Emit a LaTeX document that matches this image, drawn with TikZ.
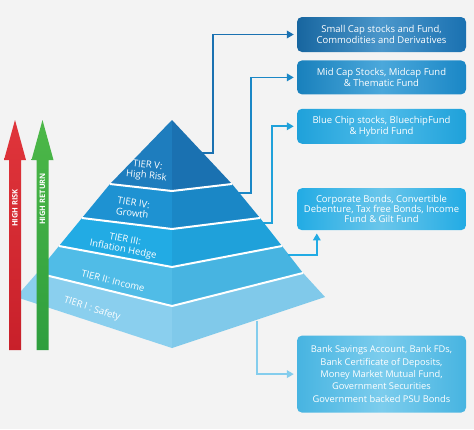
\documentclass[tikz,border=0pt]{standalone}
\usepackage{fontspec}
\setmainfont{Open Sans}
\usepackage{xcolor}
\usepackage{tikz}
\usetikzlibrary{arrows.meta,positioning,calc}
\definecolor{bggray}{HTML}{F3F3F3}
\definecolor{tierVa}{HTML}{1E7DBE}
\definecolor{tierVb}{HTML}{1A71B1}
\definecolor{tierIVa}{HTML}{1E92D2}
\definecolor{tierIVb}{HTML}{1A87C6}
\definecolor{tierIIIa}{HTML}{22ABE4}
\definecolor{tierIIIb}{HTML}{1FA1DA}
\definecolor{tierIIa}{HTML}{50BCE7}
\definecolor{tierIIb}{HTML}{47B4E1}
\definecolor{tierIa}{HTML}{8ACFEE}
\definecolor{tierIb}{HTML}{80C9EA}
\definecolor{riskred}{HTML}{E0353B}
\definecolor{riskreddk}{HTML}{C8202A}
\definecolor{retgreen}{HTML}{4DB848}
\definecolor{retgreendk}{HTML}{2E9E3E}

\begin{document}
\begin{tikzpicture}[
    x=1pt, y=-1pt,
    >={Triangle[length=7pt,width=7.5pt]},
    fund/.style={rounded corners=5pt, align=center, text=white, font=\fontsize{9.5}{11.4}\selectfont, minimum width=169pt, inner sep=1pt},
    tier/.style={text=white, align=center, inner sep=0pt, font=\fontsize{9.5}{10.5}\selectfont},
    upword/.style={text=white, rotate=90, font=\bfseries\fontsize{7.5}{8}\selectfont},
    link/.style={->, line width=1.8pt, shorten >=3pt},
    sep/.style={white, line width=2pt}
]
\fill[bggray] (0,0) rectangle (474,429);
\useasboundingbox (0,0) rectangle (474,429);

\coordinate (apex) at (172,120);
\coordinate (l1) at (110,184); \coordinate (c1) at (172,191); \coordinate (r1) at (232,184);
\coordinate (l2) at (82,218);  \coordinate (c2) at (172,229); \coordinate (r2) at (260,218);
\coordinate (l3) at (59,246);  \coordinate (c3) at (172,267); \coordinate (r3) at (282,246);
\coordinate (l4) at (37,273);  \coordinate (c4) at (172,306); \coordinate (r4) at (303,273);
\coordinate (l5) at (16,297);  \coordinate (c5) at (172,348); \coordinate (r5) at (325,297);

\fill[tierVa] (apex) -- (l1) -- (c1) -- cycle;
\fill[tierVb] (apex) -- (c1) -- (r1) -- cycle;
\fill[tierIVa] (l1) -- (c1) -- (c2) -- (l2) -- cycle;
\fill[tierIVb] (c1) -- (r1) -- (r2) -- (c2) -- cycle;
\fill[tierIIIa] (l2) -- (c2) -- (c3) -- (l3) -- cycle;
\fill[tierIIIb] (c2) -- (r2) -- (r3) -- (c3) -- cycle;
\fill[tierIIa] (l3) -- (c3) -- (c4) -- (l4) -- cycle;
\fill[tierIIb] (c3) -- (r3) -- (r4) -- (c4) -- cycle;
\fill[tierIa] (l4) -- (c4) -- (c5) -- (l5) -- cycle;
\fill[tierIb] (c4) -- (r4) -- (r5) -- (c5) -- cycle;
\draw[sep] (l1) -- (c1) -- (r1);
\draw[sep] (l2) -- (c2) -- (r2);
\draw[sep] (l3) -- (c3) -- (r3);
\draw[sep] (l4) -- (c4) -- (r4);

\node[tier, rotate=-6] (five) at (147,171) {TIER V:\\High Risk};
\node[tier, rotate=-8] (four) at (133,208) {TIER IV:\\Growth};
\node[tier, rotate=-11] (three) at (124,245) {TIER III:\\Inflation Hedge};
\node[tier, rotate=-14] (two) at (113,281) {TIER II: Income};
\node[tier, rotate=-18] (one) at (92,309) {TIER I : Safety};

\shade[top color=riskred, bottom color=riskreddk] (9,350) -- (9,160) -- (4,160) -- (15,120) -- (26,160) -- (21,160) -- (21,350) -- cycle;
\shade[top color=retgreen, bottom color=retgreendk] (36.5,350) -- (36.5,160) -- (31.5,160) -- (42.5,120) -- (53.5,160) -- (48.5,160) -- (48.5,350) -- cycle;
\node[upword] (risk) at (15,208) {HIGH RISK};
\node[upword] (return) at (42.5,199) {HIGH RETURN};

\node[fund, minimum height=35pt, left color=tierVb!90!black, right color=tierVb, middle color=tierVa!80!white] (small) at (381.5,34.5) {Small Cap stocks and Fund,\\Commodities and Derivatives};
\node[fund, minimum height=34pt, below=8pt of small, left color=tierIVb!95!black, right color=tierIVb, middle color=tierIVa!80!white] (mid) {Mid Cap Stocks, Midcap Fund\\\& Thematic Fund};
\node[fund, minimum height=35pt, below=14pt of mid, left color=tierIIIb, right color=tierIIIb, middle color=tierIIIa!80!white] (blue) {Blue Chip stocks, BluechipFund\\\& Hybrid Fund};
\node[fund, minimum height=42pt, below=44pt of blue, font=\fontsize{9.5}{10}\selectfont, left color=tierIIIa, right color=tierIIIa, middle color=tierIIa!85!white] (corp) {Corporate Bonds, Convertible\\Debenture, Tax free Bonds, Income\\Fund \& Gilt Fund};
\node[fund, minimum height=77pt, below=105pt of corp, font=\fontsize{9.3}{12.4}\selectfont, left color=tierIIb, right color=tierIIb, middle color=tierIIa!75!white] (bank) {Bank Savings Account, Bank FDs,\\Bank Certificate of Deposits,\\Money Market Mutual Fund,\\Government Securities\\Government backed PSU Bonds};

\coordinate (fromV) at (200,153);
\coordinate (fromIV) at (235,193);
\coordinate (fromIII) at (262,223);
\coordinate (fromII) at (288,255);
\coordinate (fromI) at (257,321);
\draw[link, tierVb] (fromV) -- ++(13,0) |- (small.west);
\draw[link, tierIVb] (fromIV) -- ++(16,0) |- (mid.west);
\draw[link, tierIIIb] (fromIII) -- ++(10,0) |- (blue.west);
\draw[link, tierIIIa] (fromII) -| ([xshift=20pt]corp.south west);
\draw[link, tierIa!90!tierIIa] (fromI) |- (bank.west);
\end{tikzpicture}
\end{document}
